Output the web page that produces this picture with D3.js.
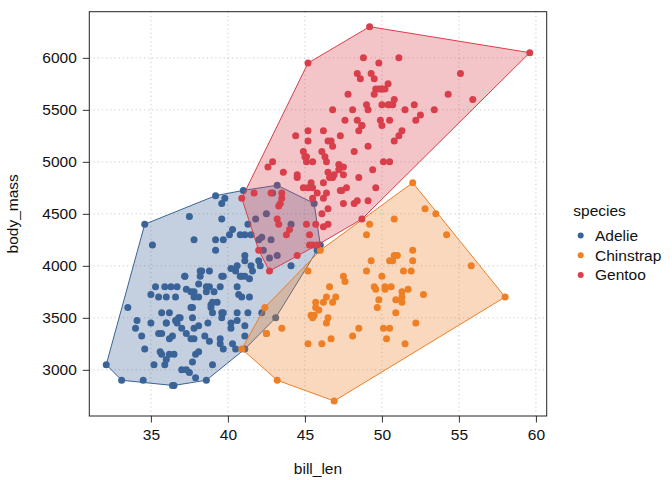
<!DOCTYPE html>
<html>
<head>
<meta charset="utf-8">
<script src="https://cdn.jsdelivr.net/npm/d3@7"></script>
<style>
  body { margin: 0; background: #fff; }
  text { font-family: "Liberation Sans", Arial, sans-serif; fill: #111; }
</style>
</head>
<body>
<div id="canvas"></div>
<script>
const species = ["Adelie", "Chinstrap", "Gentoo"];
const colors = ["#3a6397", "#ee7f25", "#d83f4b"];

// bill_len, body_mass
const adelie = [
  [39.1,3750],[39.5,3800],[40.3,3250],[36.7,3450],[39.3,3650],[38.9,3625],[39.2,4675],[34.1,3475],
  [42.0,4250],[37.8,3300],[37.8,3700],[41.1,3200],[38.6,3800],[34.6,4400],[36.6,3700],[38.7,3450],
  [42.5,4500],[34.4,3325],[46.0,4200],[37.8,3400],[37.7,3600],[35.9,3800],[38.2,3950],[38.8,3800],
  [35.3,3800],[40.6,3550],[40.5,3200],[37.9,3150],[40.5,3950],[39.5,3250],[37.2,3900],[39.5,3300],
  [40.9,3900],[36.4,3325],[39.2,4150],[38.8,3950],[42.2,3550],[37.6,3300],[39.8,4650],[36.5,3150],
  [40.8,3900],[36.0,3100],[44.1,4400],[37.0,3000],[39.6,4600],[41.1,3425],[37.5,2975],[36.0,3450],
  [42.3,4150],[39.6,3500],[40.1,4300],[35.0,3450],[42.0,4050],[34.5,2900],[41.4,3700],[39.0,3550],
  [40.6,3800],[36.5,2850],[37.6,3750],[35.7,3150],[41.3,4400],[37.6,3600],[41.1,4050],[36.4,2850],
  [41.6,3950],[35.5,3350],[41.1,4100],[35.9,3050],[41.8,4450],[33.5,3600],[39.7,3900],[39.6,3550],
  [45.8,4150],[35.5,3700],[42.8,4250],[40.9,3700],[37.2,3900],[36.2,3550],[42.1,4000],[34.6,3200],
  [42.9,4700],[36.7,3800],[35.1,4200],[37.3,3350],[41.3,3550],[36.3,3800],[36.9,3500],[38.3,3950],
  [38.9,3600],[35.7,3550],[41.1,4300],[34.0,3400],[39.6,4450],[36.2,3300],[40.8,4300],[38.1,3700],
  [40.3,4350],[33.1,2900],[43.2,4100],[35.0,3725],[41.0,4725],[37.7,3075],[37.8,4250],[37.9,2925],
  [39.7,3550],[38.6,3750],[38.2,3900],[38.1,3175],[43.2,4775],[38.1,3825],[45.6,4600],[39.7,3200],
  [42.2,4275],[39.6,3900],[42.7,4075],[38.6,2900],[37.3,3775],[35.7,3350],[41.1,3325],[36.2,3150],
  [37.7,3500],[40.2,3450],[41.4,3875],[35.2,3050],[40.6,4000],[38.8,3275],[41.5,4300],[39.0,3050],
  [44.1,4000],[38.5,3325],[43.1,3500],[36.8,3500],[37.5,4475],[38.1,3425],[41.1,3900],[35.6,3175],
  [40.2,3975],[37.0,3400],[39.7,4250],[40.2,3400],[40.6,3475],[32.1,3050],[40.7,3725],[37.3,3000],
  [39.0,3650],[39.2,4250],[36.6,3475],[36.0,3450],[37.8,3750],[36.0,3700],[41.5,4000]
];

const chinstrap = [
  [46.5,3500],[50.0,3900],[51.3,3650],[45.4,3525],[52.7,3725],[45.2,3950],[46.1,3250],[51.3,3750],
  [46.0,4150],[51.3,3700],[46.6,3800],[51.7,3775],[47.0,3700],[52.0,4050],[45.9,3575],[50.5,4050],
  [50.3,3300],[58.0,3700],[46.4,3450],[49.2,4400],[42.4,3600],[48.5,3400],[43.2,2900],[50.6,3800],
  [46.7,3300],[52.0,4150],[50.5,3400],[49.5,3800],[46.4,3700],[52.8,4550],[40.9,3200],[54.2,4300],
  [42.5,3350],[51.0,4100],[49.7,3600],[47.5,3900],[47.6,3850],[52.0,4800],[46.9,2700],[53.5,4500],
  [49.0,3950],[46.2,3650],[50.9,3550],[45.5,3500],[50.9,3675],[50.8,4450],[50.1,3400],[49.0,4300],
  [51.5,3250],[49.8,3675],[48.1,3325],[51.4,3950],[45.7,3600],[50.7,4050],[42.5,3350],[52.2,3450],
  [45.2,3250],[49.3,4050],[50.2,3800],[45.6,3525],[51.9,3950],[46.8,3650],[45.7,3650],[55.8,4000],
  [43.5,3400],[49.6,3775],[50.8,4100],[50.2,3775]
];

const gentoo = [
  [46.1,4500],[50.0,5700],[48.7,4450],[50.0,5700],[47.6,5400],[46.5,4550],[45.4,4800],[46.7,5200],
  [43.3,4400],[46.8,5150],[40.9,4650],[49.0,5550],[45.5,4650],[48.4,5850],[45.8,4200],[49.3,5850],
  [42.0,4150],[49.2,6300],[46.2,4800],[48.7,5350],[50.2,5700],[45.1,5000],[46.5,4400],[46.3,5050],
  [42.9,5000],[46.1,5100],[44.5,4100],[47.8,5650],[48.2,4600],[50.0,5550],[47.3,5250],[42.8,4700],
  [45.1,5050],[59.6,6050],[49.1,5150],[48.4,5400],[42.6,4950],[44.4,5250],[44.0,4350],[48.7,5350],
  [42.7,3950],[49.6,5700],[45.3,4300],[49.6,4750],[50.5,5550],[43.6,4900],[45.5,4200],[50.5,5400],
  [44.9,5100],[45.2,5300],[46.6,4850],[48.5,5300],[45.1,4400],[50.1,5000],[46.5,4900],[45.0,5050],
  [43.8,4300],[45.5,5000],[43.2,4450],[50.4,5550],[45.3,4200],[46.2,5300],[45.7,4400],[54.3,5650],
  [45.8,4700],[49.8,5700],[46.2,4650],[49.5,5800],[43.5,4700],[50.7,5550],[47.7,4750],[46.4,5000],
  [48.2,5100],[46.5,5200],[46.4,4700],[48.6,5800],[47.5,4600],[51.1,6000],[45.2,4750],[45.2,5950],
  [49.1,4625],[52.5,5450],[47.4,4725],[50.0,5350],[44.9,4750],[50.8,5600],[43.4,4600],[51.3,5300],
  [47.5,4875],[52.1,5550],[47.5,4950],[52.2,5400],[45.5,4750],[49.5,5650],[44.5,4850],[50.8,5200],
  [49.4,4925],[46.9,4875],[48.4,4625],[51.1,5250],[48.5,4850],[55.9,5600],[47.2,4975],[49.1,5500],
  [47.3,4725],[46.8,5500],[41.7,4700],[53.4,5500],[43.3,4575],[48.1,5500],[50.5,5000],[49.8,5950],
  [43.5,4650],[51.5,5500],[46.2,4375],[55.1,5850],[44.5,4875],[48.8,6000],[47.2,4925],[46.8,4850],
  [50.4,5750],[45.2,5200],[49.9,5400]
];

const groups = [adelie, chinstrap, gentoo];
const xTicks = [35, 40, 45, 50, 55, 60];
const yTicks = [3000, 3500, 4000, 4500, 5000, 5500, 6000];

const W = 672, H = 480;
const pLeft = 89.3, pRight = 546.7, pTop = 11.7, pBottom = 416;

const svg = d3.select("#canvas")
  .append("svg")
  .attr("width", W)
  .attr("height", H);

// base R style 4% padding on the data range
const all = groups.flat();
function padded(ext) {
  const p = (ext[1] - ext[0]) * 0.04;
  return [ext[0] - p, ext[1] + p];
}
const x = d3.scaleLinear().domain(padded(d3.extent(all, d => d[0]))).range([pLeft, pRight]);
const y = d3.scaleLinear().domain(padded(d3.extent(all, d => d[1]))).range([pBottom, pTop]);

// grid
const grid = svg.append("g")
  .attr("stroke", "#c8c8c8")
  .attr("stroke-width", 1)
  .attr("stroke-dasharray", "1.2,3");
grid.selectAll(".gx").data(xTicks).enter().append("line")
  .attr("x1", d => x(d)).attr("x2", d => x(d))
  .attr("y1", pTop).attr("y2", pBottom);
grid.selectAll(".gy").data(yTicks).enter().append("line")
  .attr("x1", pLeft).attr("x2", pRight)
  .attr("y1", d => y(d)).attr("y2", d => y(d));

// hulls and points, one group at a time
for (let i = 0; i < groups.length; i++) {
  const pts = groups[i].map(d => [x(d[0]), y(d[1])]);
  const hull = d3.polygonHull(pts);
  svg.append("path")
    .attr("d", "M" + hull.join("L") + "Z")
    .attr("fill", colors[i])
    .attr("fill-opacity", 0.3)
    .attr("stroke", colors[i])
    .attr("stroke-width", 1);

  svg.append("g").selectAll("circle")
    .data(groups[i])
    .enter().append("circle")
    .attr("cx", d => x(d[0]))
    .attr("cy", d => y(d[1]))
    .attr("r", 3.5)
    .attr("fill", colors[i]);
}

// axes
const xAxis = svg.append("g")
  .attr("transform", "translate(0," + pBottom + ")")
  .call(d3.axisBottom(x).tickValues(xTicks).tickSize(6.5).tickPadding(6).tickFormat(d3.format("d")));
const yAxis = svg.append("g")
  .attr("transform", "translate(" + pLeft + ",0)")
  .call(d3.axisLeft(y).tickValues(yTicks).tickSize(6.5).tickPadding(6).tickFormat(d3.format("d")));
[xAxis, yAxis].forEach(a => {
  a.select(".domain").remove();
  a.selectAll(".tick line").attr("stroke", "#333");
  a.selectAll(".tick text")
    .style("font-family", "'Liberation Sans', Arial, sans-serif")
    .style("font-size", "15.5px")
    .attr("fill", "#111");
});

// panel box
svg.append("rect")
  .attr("x", pLeft).attr("y", pTop)
  .attr("width", pRight - pLeft).attr("height", pBottom - pTop)
  .attr("fill", "none")
  .attr("stroke", "#222")
  .attr("stroke-width", 1);

// axis titles
svg.append("text")
  .attr("x", (pLeft + pRight) / 2)
  .attr("y", 474)
  .attr("text-anchor", "middle")
  .style("font-size", "15.5px")
  .text("bill_len");
svg.append("text")
  .attr("transform", "translate(18," + (pTop + pBottom) / 2 + ") rotate(-90)")
  .attr("text-anchor", "middle")
  .style("font-size", "15.5px")
  .text("body_mass");

// legend
const legend = svg.append("g");
legend.append("text")
  .attr("x", 573.3)
  .attr("y", 216)
  .style("font-size", "15.5px")
  .text("species");
const items = legend.selectAll(".item").data(species).enter().append("g")
  .attr("transform", (d, i) => "translate(0," + (235.5 + i * 19.7) + ")");
items.append("circle")
  .attr("cx", 580.7).attr("cy", 0).attr("r", 3)
  .attr("fill", (d, i) => colors[i]);
items.append("text")
  .attr("x", 595)
  .attr("y", 5.5)
  .style("font-size", "15.5px")
  .text(d => d);
</script>
</body>
</html>
